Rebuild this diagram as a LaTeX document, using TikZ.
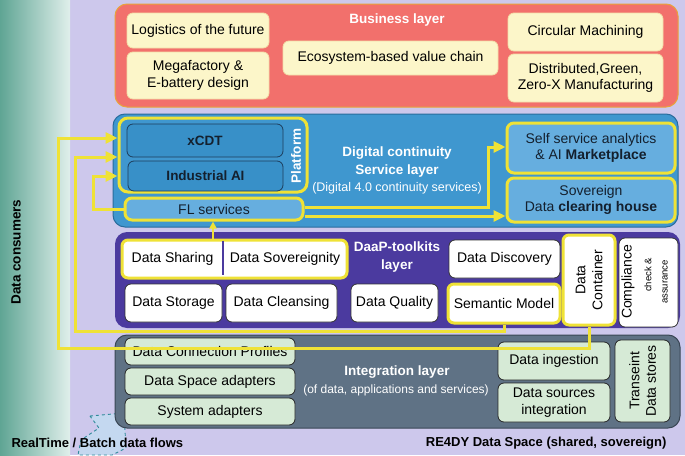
\documentclass[tikz,border=0pt]{standalone}
\usepackage{fontspec}
\setmainfont{Liberation Sans}
\usetikzlibrary{arrows.meta,calc}
\definecolor{bgl}{HTML}{CDC8EC}
\definecolor{tealD}{HTML}{5FA594}
\definecolor{tealL}{HTML}{E0EFEB}
\definecolor{bizF}{HTML}{F2706C}
\definecolor{bizB}{HTML}{E8A33C}
\definecolor{bizBox}{HTML}{FCF6C9}
\definecolor{bizBoxB}{HTML}{F3DDA8}
\definecolor{digF}{HTML}{3F97CF}
\definecolor{digB}{HTML}{2A6C9C}
\definecolor{digBox}{HTML}{3890C8}
\definecolor{digBoxB}{HTML}{1E3D5C}
\definecolor{digLight}{HTML}{66AEDF}
\definecolor{daapF}{HTML}{4B3A9F}
\definecolor{intF}{HTML}{5F7285}
\definecolor{intB}{HTML}{3A4755}
\definecolor{grn}{HTML}{D6EAD6}
\definecolor{ylw}{HTML}{EFE236}
\definecolor{darktx}{HTML}{14202E}
\definecolor{cloudF}{HTML}{C4D8F0}
\definecolor{cloudB}{HTML}{2F8A9A}
\begin{document}
\begin{tikzpicture}[x=1pt,y=-1pt,
  txt/.style={font=\fontsize{14}{16.5}\selectfont},
  ttl/.style={font=\bfseries\fontsize{13.5}{18}\selectfont, text=white, align=center},
  sub/.style={font=\fontsize{12.5}{14}\selectfont, text=white},
  layer/.style={rounded corners=12pt, line width=1pt},
  bizbox/.style={draw=bizBoxB, fill=bizBox, rounded corners=6pt, line width=0.8pt, align=center, inner sep=0pt, txt},
  digbox/.style={draw=digBoxB, fill=digBox, rounded corners=6pt, line width=0.8pt, align=center, inner sep=0pt, font=\bfseries\fontsize{13.5}{16}\selectfont, text=darktx},
  ybox/.style={draw=ylw, line width=3pt, rounded corners=7pt, fill=digLight, align=center, inner sep=0pt, txt, text=darktx},
  wbox/.style={draw=black!80, fill=white, rounded corners=6pt, line width=0.8pt, align=center, inner sep=0pt, txt},
  wyb/.style={draw=ylw, fill=white, rounded corners=6pt, line width=3pt, align=center, inner sep=0pt, txt},
  gbox/.style={draw=black!85, fill=grn, rounded corners=6pt, line width=0.8pt, align=center, inner sep=0pt, txt},
  yl/.style={draw=ylw, line width=3pt},
  yarr/.style={yl, -{Triangle[length=12pt,width=11pt]}},
  rot/.style={rotate=90, align=center}
]
\fill[bgl] (0,0) rectangle (685,455);
\useasboundingbox (0,0) rectangle (685,455);
\shade[left color=tealD, right color=tealL] (0,0) rectangle (70,455);
\node[rot, font=\bfseries\fontsize{13.5}{16}\selectfont] (dcons) at (16,252) {Data consumers};

% cloud
\draw[dashed, draw=cloudB, fill=cloudF, line width=0.9pt] (90,416) -- (124,413) -- (126,448) -- (112,455) -- (78,455) -- (81,440) -- (99,428) -- cycle;

% Business layer
\node[layer, draw=bizB, fill=bizF, minimum width=563pt, minimum height=103pt] (biz) at (396.5,55.5) {};
\node[ttl] (bizt) at (397,20) {Business layer};
\node[bizbox, minimum width=142pt, minimum height=35pt] (log) at (198,30.5) {Logistics of the future};
\node[bizbox, minimum width=142pt, minimum height=47pt] (mega) at (198,75.5) {Megafactory \&\\E-battery design};
\node[bizbox, minimum width=215pt, minimum height=34pt] (eco) at (390.5,58) {Ecosystem-based value chain};
\node[bizbox, minimum width=155pt, minimum height=38pt] (circ) at (585.5,32) {Circular Machining};
\node[bizbox, minimum width=155pt, minimum height=48pt] (dist) at (585.5,78) {Distributed,Green,\\Zero-X Manufacturing};

% Digital continuity layer
\node[layer, draw=digB, fill=digF, minimum width=565pt, minimum height=113pt] (dig) at (395.5,170.5) {};
\node[draw=ylw, line width=3pt, fill=digF, rounded corners=9pt, minimum width=188pt, minimum height=74pt] (plat) at (213,155) {};
\node[digbox, minimum width=156pt, minimum height=33pt] (xcdt) at (205,140.5) {xCDT};
\node[digbox, minimum width=155pt, minimum height=30pt] (iai) at (205.5,176) {Industrial AI};
\node[rot, font=\bfseries\fontsize{13.5}{16}\selectfont, text=white] (platl) at (296,156) {Platform};
\node[ybox, minimum width=178pt, minimum height=22pt] (fl) at (214,209) {FL services};
\node[ttl] (digt) at (397,162) {Digital continuity\\Service layer};
\node[sub] (digs) at (397,188) {(Digital 4.0 continuity services)};
\node[ybox, minimum width=168pt, minimum height=50pt] (ssa) at (591,148) {Self service analytics\\\& AI \textbf{Marketplace}};
\node[ybox, minimum width=168pt, minimum height=44pt] (sdc) at (591,200) {Sovereign\\Data \textbf{clearing house}};

% DaaP layer
\node[layer, fill=daapF, minimum width=565pt, minimum height=96pt] (daap) at (397.5,280) {};
\node[wyb, minimum width=225pt, minimum height=38pt] (dsg) at (234.5,259) {};
\draw[daapF, line width=1.5pt] (dsg.north -| 223,0) ++(0,2) -- ++(0,34);
\node[txt] (dsh) at (172.5,259) {Data Sharing};
\node[txt] (dsov) at (285,259) {Data Sovereignity};
\node[wbox, minimum width=97pt, minimum height=38pt] (dsto) at (173.5,303) {Data Storage};
\node[wbox, minimum width=111pt, minimum height=38pt] (dcl) at (281.5,303) {Data Cleansing};
\node[wbox, minimum width=87pt, minimum height=38pt] (dq) at (394.5,303) {Data Quality};
\node[ttl] (daapt) at (397,257) {DaaP-toolkits\\layer};
\node[wbox, minimum width=111pt, minimum height=38pt] (ddis) at (504.5,259) {Data Discovery};
\node[wyb, minimum width=112pt, minimum height=39pt] (sem) at (504,303.5) {Semantic Model};
\node[wyb, minimum width=52pt, minimum height=90pt] (dcont) at (589,280) {};
\node[rot, font=\fontsize{14}{17}\selectfont] (dcontl) at (dcont.center) {Data\\Container};
\node[wbox, minimum width=59pt, minimum height=89pt] (comp) at (648.5,282.5) {};
\node[rot, font=\fontsize{14}{16}\selectfont] (compa) at (628,282) {Compliance};
\node[rot, font=\fontsize{9.5}{10}\selectfont] (compb) at (648,275) {check \&};
\node[rot, font=\fontsize{9.5}{10}\selectfont] (compc) at (665,282) {assurance};

% Integration layer
\node[layer, draw=intB, fill=intF, minimum width=565pt, minimum height=93pt] (integ) at (397.5,381.5) {};
\node[gbox, minimum width=170pt, minimum height=27pt] (dcp) at (210,351.5) {Data Connection Profiles};
\node[gbox, minimum width=170pt, minimum height=27pt] (dsa) at (210,381.5) {Data Space adapters};
\node[gbox, minimum width=170pt, minimum height=27pt] (sya) at (210,411.5) {System adapters};
\node[ttl] (intt) at (397,372) {Integration layer};
\node[sub, font=\fontsize{12}{13}\selectfont] (ints) at (396,390) {(of data, applications and services)};
\node[gbox, minimum width=112pt, minimum height=38pt] (ding) at (554,361) {Data ingestion};
\node[gbox, minimum width=112pt, minimum height=39pt] (dsi) at (554,402.5) {Data sources\\integration};
\node[gbox, minimum width=55pt, minimum height=82pt] (tds) at (642.5,381) {};
\node[rot, font=\fontsize{14}{16.5}\selectfont] (tdsl) at (tds.center) {Transeint\\Data stores};

% connectors
\draw[yarr] (dcont.south) |- (58,348) |- (plat.west |- 0,138);
\draw[yarr] (sem.south) |- (75,331) |- (plat.west |- 0,157);
\draw[yarr] (fl.west) -| (93,176) -- (plat.west |- 0,176);
\draw[yarr] ($(fl.east)+(0,-2)$) -| (488,147) -- (ssa.west |- 0,147);
\draw[yarr] ($(fl.east)+(0,7)$) -- (sdc.west |- 0,216);
\draw[ylw, line width=2pt, -{Triangle[length=7pt,width=7pt]}] (dsg.north -| 213,0) -- (fl.south -| 213,0);

% bottom labels
\node[anchor=west, font=\bfseries\fontsize{13}{15}\selectfont] (rt) at (8,443) {RealTime / Batch data flows};
\node[anchor=east, font=\bfseries\fontsize{13}{15}\selectfont] (re4) at (670,443) {RE4DY Data Space (shared, sovereign)};
\end{tikzpicture}
\end{document}
